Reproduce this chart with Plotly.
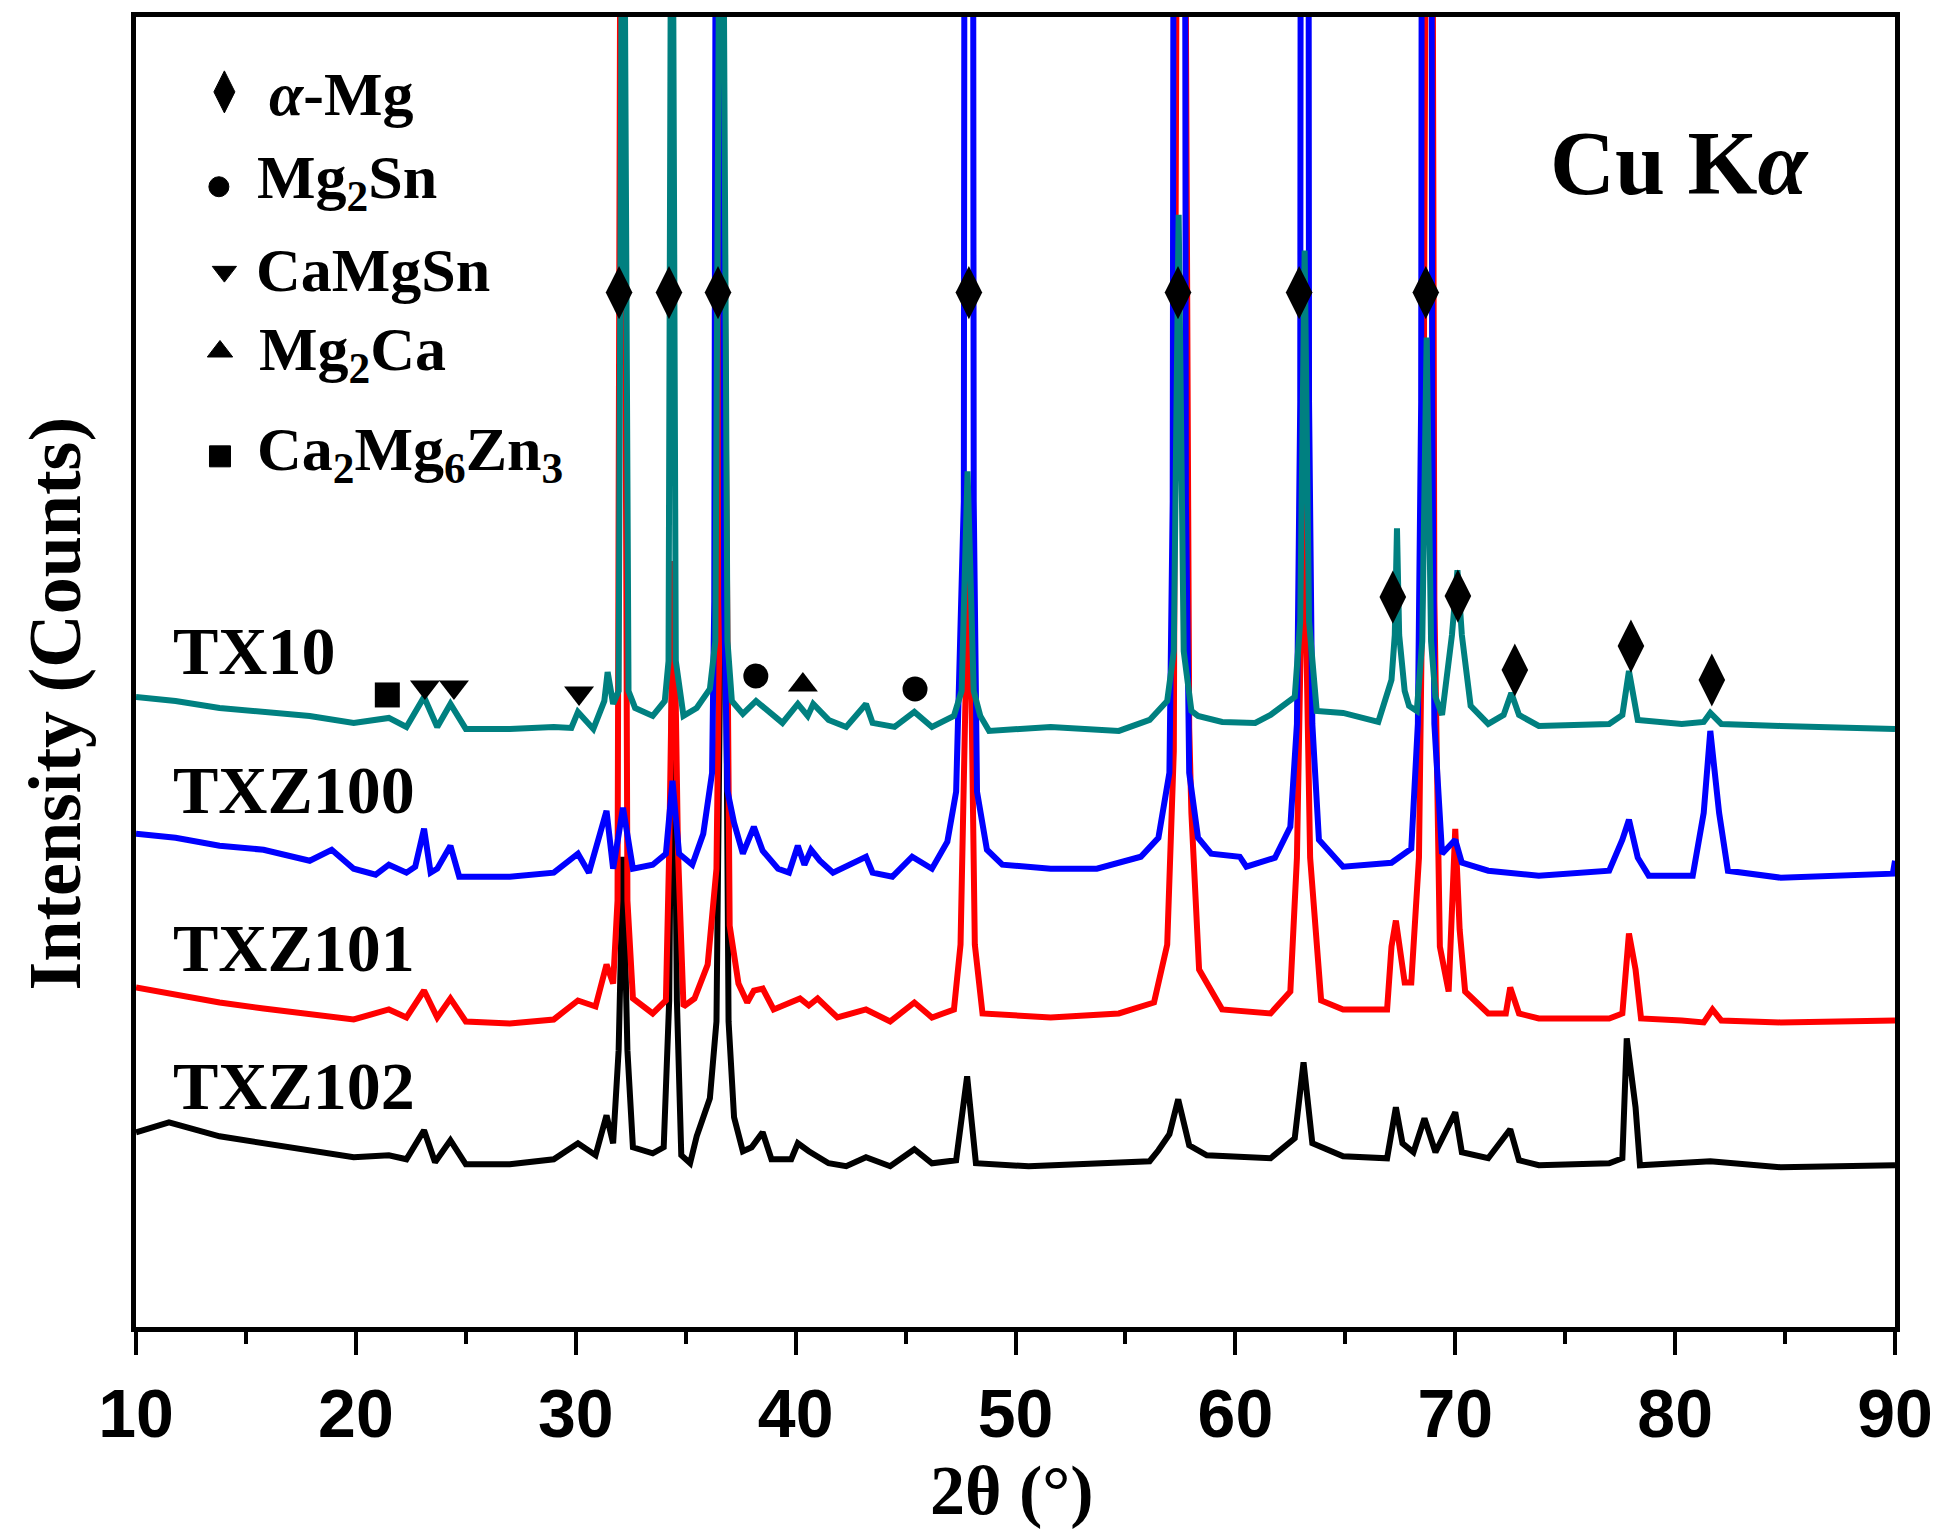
import plotly.graph_objects as go

# XRD patterns, 2theta (deg) vs intensity (offset counts)
tx10_x = [10.0, 11.8, 13.8, 15.8, 17.9, 19.9, 21.5, 22.3, 23.1, 23.7, 24.3, 25.0, 27.0, 29.0, 29.8, 30.1, 30.8,
          31.3, 31.45, 31.7, 31.95, 32.15, 32.4, 32.7, 33.5, 34.05, 34.22, 34.37, 34.55, 34.9, 35.5, 36.1, 36.35,
          36.62, 36.9, 37.1, 37.6, 38.2, 38.8, 39.4, 40.1, 40.55, 40.8, 41.5, 42.3, 43.2, 43.5, 44.5, 45.4, 46.2,
          47.2, 47.55, 47.82, 48.1, 48.4, 48.8, 51.6, 54.7, 56.1, 56.9, 57.2, 57.42, 57.65, 58.0, 58.3, 59.4, 60.9,
          61.6, 62.7, 62.95, 63.15, 63.35, 63.7, 64.9, 66.5, 67.1, 67.25, 67.35, 67.45, 67.7, 67.9, 68.25, 68.5,
          68.7, 68.9, 69.1, 69.4, 69.85, 70.1, 70.3, 70.7, 71.5, 72.2, 72.55, 72.9, 73.8, 77.0, 77.6, 77.9, 78.3,
          80.3, 81.3, 81.6, 82.1, 84.8, 90.0]
tx10_y = [631, 627, 620, 616, 612, 605, 610, 601, 631, 601, 624, 599, 599, 601, 600, 616, 599,
          627, 656, 624, 637, 1700, 637, 620, 612, 627, 667, 1700, 667, 612, 620, 639, 687,
          1800, 687, 627, 614, 627, 616, 605, 624, 612, 624, 608, 601, 624, 605, 601, 616, 601,
          612, 637, 857, 637, 612, 597, 601, 597, 608, 627, 677, 1114, 677, 617, 612, 606, 605,
          613, 631, 707, 1078, 707, 617, 615, 606, 648, 693, 800, 693, 637, 622, 617, 687,
          991, 687, 631, 613, 693, 758, 693, 622, 604, 613, 635, 613, 602, 604, 613, 657, 608,
          604, 606, 615, 604, 602, 599]

txz100_x = [10.0, 11.8, 13.8, 15.8, 17.9, 18.9, 19.9, 20.9, 21.5, 22.3, 22.7, 23.1, 23.4, 23.7, 24.3, 24.7, 27.0,
            29.0, 30.1, 30.6, 31.4, 31.7, 32.15, 32.6, 33.5, 34.1, 34.4, 34.7, 35.3, 35.8, 36.2, 36.3, 36.5,
            36.75, 36.9, 37.2, 37.6, 38.1, 38.5, 39.2, 39.7, 40.1, 40.4, 40.7, 41.1, 41.7, 43.2, 43.5, 44.4,
            45.3, 46.2, 46.9, 47.3, 47.65, 47.875, 48.1, 48.25, 48.7, 49.4, 51.6, 53.7, 55.7, 56.5, 57.0, 57.15,
            57.45, 57.75, 57.9, 58.3, 58.9, 60.2, 60.5, 61.8, 62.5, 62.8, 62.95, 63.15, 63.35, 63.5, 63.8, 64.9,
            67.1, 68.0, 68.3, 68.45, 68.7, 68.95, 69.05, 69.4, 70.0, 70.3, 71.5, 73.8, 77.0, 77.6, 77.9, 78.3,
            78.8, 80.8, 81.3, 81.6, 82.0, 82.4, 84.8, 89.9, 90.0]
txz100_y = [494, 490, 482, 478, 467, 478, 459, 453, 463, 455, 461, 499, 455, 459, 482, 451, 451,
            455, 474, 455, 517, 459, 520, 459, 463, 474, 547, 474, 463, 494, 555, 727, 3000,
            727, 537, 505, 474, 501, 477, 459, 455, 482, 463, 478, 467, 455, 471, 455, 451,
            471, 459, 486, 536, 827, 6000, 827, 536, 478, 463, 459, 459, 471, 490, 555, 827,
            6000, 827, 555, 490, 474, 471, 461, 470, 501, 604, 927, 6000, 927, 604, 488, 461,
            465, 479, 604, 927, 6000, 927, 604, 474, 488, 465, 457, 452, 457, 488, 508, 470,
            452, 452, 515, 597, 515, 457, 450, 454, 467]

txz101_x = [10.0, 11.8, 13.8, 15.8, 17.9, 19.9, 21.5, 22.3, 23.1, 23.7, 24.3, 25.0, 27.0, 29.0, 30.1, 30.9,
            31.4, 31.7, 31.9, 32.1, 32.35, 32.6, 33.5, 34.1, 34.25, 34.45, 34.65, 34.9, 35.4, 36.0, 36.4, 36.55,
            36.72, 36.9, 37.0, 37.4, 37.8, 38.1, 38.5, 39.0, 40.2, 40.6, 41.0, 41.9, 43.2, 44.3, 45.4, 46.2,
            47.2, 47.5, 47.7, 47.85, 48.0, 48.15, 48.5, 51.6, 54.7, 56.3, 56.9, 57.2, 57.5, 57.9, 58.0, 58.35,
            59.4, 61.6, 62.5, 62.8, 63.1, 63.4, 63.9, 64.9, 66.9, 67.1, 67.3, 67.7, 68.0, 68.35, 68.55, 68.85,
            69.05, 69.3, 69.7, 70.0, 70.2, 70.45, 71.5, 72.3, 72.5, 72.9, 73.8, 77.0, 77.6, 77.9, 78.2, 78.45,
            80.3, 81.3, 81.7, 82.1, 84.8, 90.0]
txz101_y = [340, 333, 325, 319, 314, 308, 318, 310, 337, 310, 329, 306, 304, 308, 327, 321,
            363, 344, 427, 2000, 427, 329, 314, 327, 477, 767, 477, 321, 329, 363, 459, 727,
            1207, 727, 402, 344, 325, 337, 339, 318, 329, 322, 329, 310, 318, 306, 325, 310,
            318, 383, 627, 767, 627, 383, 314, 310, 314, 325, 383, 577, 2500, 600, 515, 358,
            318, 314, 336, 470, 847, 470, 327, 318, 318, 381, 407, 345, 345, 470, 827, 2500,
            727, 381, 336, 499, 398, 336, 314, 314, 340, 314, 309, 309, 314, 394, 358, 309,
            307, 305, 318, 307, 305, 307]

txz102_x = [10.0, 11.5, 13.8, 15.8, 17.9, 19.9, 21.5, 22.3, 23.1, 23.6, 24.3, 25.0, 27.0, 29.0, 30.1, 30.9,
            31.4, 31.7, 31.95, 32.15, 32.35, 32.6, 33.5, 34.0, 34.25, 34.42, 34.6, 34.8, 35.2, 35.5, 36.1, 36.4,
            36.55, 36.68, 36.85, 36.95, 37.2, 37.6, 38.0, 38.5, 38.9, 39.8, 40.1, 40.6, 41.5, 42.3, 43.2, 44.3,
            45.4, 46.2, 47.3, 47.6, 47.8, 48.0, 48.2, 50.6, 53.7, 56.1, 56.5, 57.0, 57.4, 57.9, 58.7, 61.6,
            62.7, 63.1, 63.5, 64.9, 66.9, 67.3, 67.6, 68.1, 68.6, 69.1, 70.0, 70.3, 71.5, 72.5, 72.9, 73.8,
            77.0, 77.6, 77.8, 78.2, 78.4, 81.6, 84.8, 90.0]
txz102_y = [195, 205, 191, 184, 178, 170, 172, 168, 197, 165, 187, 163, 163, 168, 184, 172,
            212, 184, 277, 471, 277, 180, 174, 180, 327, 767, 327, 172, 164, 191, 229, 306,
            627, 1086, 627, 306, 210, 176, 180, 195, 168, 168, 184, 176, 164, 161, 170, 161,
            178, 164, 167, 217, 251, 207, 164, 161, 164, 166, 177, 193, 228, 182, 172, 169,
            189, 265, 184, 171, 169, 220, 184, 175, 209, 175, 215, 175, 169, 198, 167, 162,
            164, 169, 289, 220, 162, 166, 160, 162]

# phase markers
mg_x = [31.97, 34.24, 36.47, 47.88, 57.39, 62.9, 68.66, 67.16, 70.12, 72.71, 77.99, 81.67]
mg_y = [1036, 1036, 1036, 1036, 1036, 1036, 1036, 731, 732, 658, 682, 648]
mg2sn_x = [38.19, 45.43]
mg2sn_y = [652, 639]
camgsn_x = [23.14, 24.46, 30.15]
camgsn_y = [641, 641, 635]
mg2ca_x = [40.33]
mg2ca_y = [643]
ca2mg6zn3_x = [21.43]
ca2mg6zn3_y = [633]

samples = ["TXZ102", "TXZ101", "TXZ100", "TX10"]
colors = ["black", "#ff0000", "#0000ff", "#008080"]
xs = [txz102_x, txz101_x, txz100_x, tx10_x]
ys = [txz102_y, txz101_y, txz100_y, tx10_y]
label_y = [241, 380, 538, 677]

phases = ["<i>α</i>-Mg", "Mg<sub>2</sub>Sn", "CaMgSn", "Mg<sub>2</sub>Ca", "Ca<sub>2</sub>Mg<sub>6</sub>Zn<sub>3</sub>"]
phase_symbols = ["diamond-tall", "circle", "triangle-down", "triangle-up", "square"]
phase_sizes = [30, 20, 21, 22, 21]
key_x = [14.02, 13.77, 14.02, 13.82, 13.82]
key_y = [1237, 1142, 1057, 977, 872]
key_text_x = [15.96, 15.41, 15.36, 15.5, 15.41]
key_text_y = [1235, 1147, 1059, 975, 875]

serif = "Liberation Serif, Times New Roman, serif"

fig = go.Figure()

for name, c, x, y in zip(samples, colors, xs, ys):
    fig.add_trace(go.Scatter(x=x, y=y, mode="lines", name=name,
                             line=dict(color=c, width=6)))

marker_sets = [
    (mg_x, mg_y, "diamond-tall", 38),
    (mg2sn_x, mg2sn_y, "circle", 25),
    (camgsn_x, camgsn_y, "triangle-down", 26),
    (mg2ca_x, mg2ca_y, "triangle-up", 26),
    (ca2mg6zn3_x, ca2mg6zn3_y, "square", 25),
]
for mx, my, sym, sz in marker_sets:
    fig.add_trace(go.Scatter(x=mx, y=my, mode="markers",
                             marker=dict(symbol=sym, size=sz, color="black", line=dict(width=0))))

# phase key, one marker per phase
for kx, ky, sym, sz in zip(key_x, key_y, phase_symbols, phase_sizes):
    fig.add_trace(go.Scatter(x=[kx], y=[ky], mode="markers",
                             marker=dict(symbol=sym, size=sz, color="black", opacity=1,
                                         line=dict(width=1, color="black"))))
for t, tx, ty in zip(phases, key_text_x, key_text_y):
    fig.add_annotation(x=tx, y=ty, text="<b>" + t + "</b>", showarrow=False,
                       xanchor="left", yanchor="middle",
                       font=dict(family=serif, size=62, color="black"))

for name, ly in zip(samples, label_y):
    fig.add_annotation(x=11.6, y=ly, text="<b>" + name + "</b>", showarrow=False,
                       xanchor="left", yanchor="middle",
                       font=dict(family=serif, size=68, color="black"))

fig.add_annotation(x=74.2, y=1165, text="<b>Cu K<i>α</i></b>", showarrow=False,
                   xanchor="left", yanchor="middle",
                   font=dict(family=serif, size=90, color="black"))

fig.add_annotation(x=-0.046, y=0.476, xref="paper", yref="paper", text="<b>Intensity (Counts)</b>",
                   textangle=-90, showarrow=False, xanchor="center", yanchor="middle",
                   font=dict(family=serif, size=74, color="black"))
fig.add_annotation(x=0.498, y=-0.125, xref="paper", yref="paper", text="<b>2θ (°)</b>",
                   showarrow=False, xanchor="center", yanchor="middle",
                   font=dict(family=serif, size=70, color="black"))

fig.update_xaxes(range=[10, 90], tickvals=[10, 20, 30, 40, 50, 60, 70, 80, 90],
                 ticks="outside", ticklen=23, tickwidth=4, tickcolor="black",
                 minor=dict(tickvals=[15, 25, 35, 45, 55, 65, 75, 85], ticks="outside",
                            ticklen=12, tickwidth=4, tickcolor="black"),
                 showline=True, linewidth=5, linecolor="black", mirror=True,
                 showgrid=False, zeroline=False,
                 tickfont=dict(family="Liberation Sans, Arial, sans-serif", size=68, color="black", weight="bold"))
fig.update_yaxes(range=[0, 1312], showticklabels=False, ticks="",
                 showline=True, linewidth=5, linecolor="black", mirror=True,
                 showgrid=False, zeroline=False)

fig.update_layout(width=1953, height=1539, showlegend=False,
                  margin=dict(l=136, r=58, t=15, b=212),
                  plot_bgcolor="white", paper_bgcolor="white")

fig.write_html("out.html", config={"displayModeBar": False},
               post_script="document.body.style.margin='0';document.body.style.overflow='hidden';")
